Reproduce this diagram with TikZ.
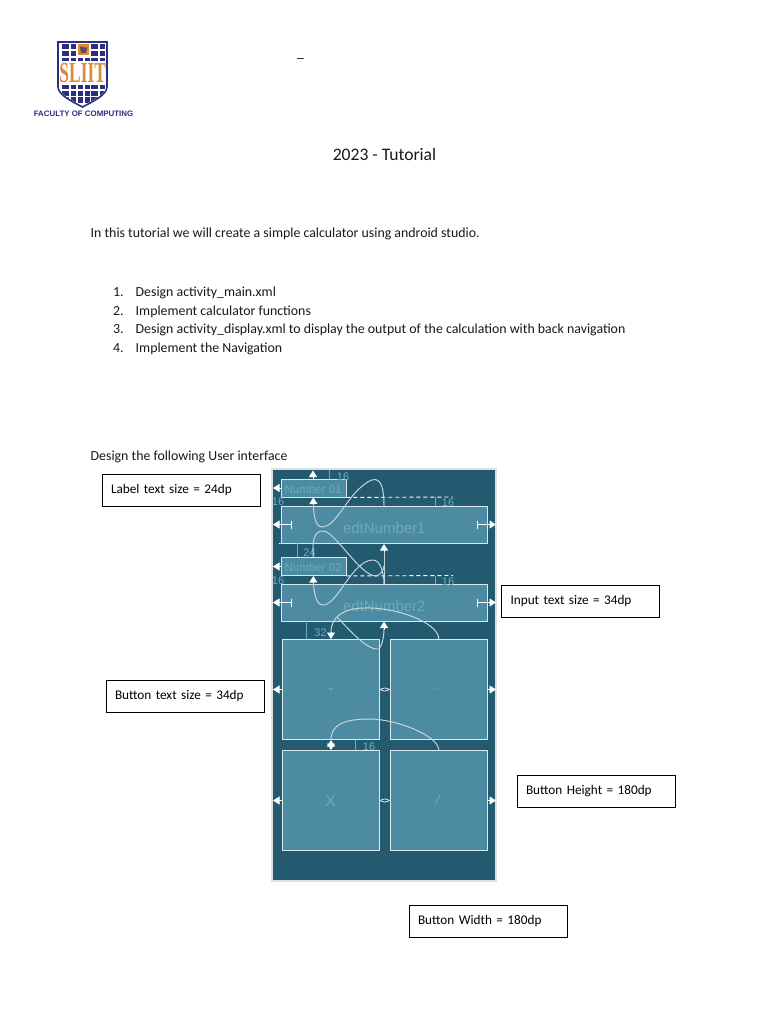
\documentclass[tikz,border=0pt]{standalone}
\usepackage{fontspec}
\setmainfont{Carlito}
\newfontfamily\liber{Liberation Sans}
\newfontfamily\logoserif{Liberation Serif}
\usetikzlibrary{arrows.meta,calc}
\definecolor{panel}{HTML}{245A70}
\definecolor{boxfill}{HTML}{4D8BA3}
\definecolor{boxline}{HTML}{D8EAF0}
\definecolor{dimtxt}{HTML}{68AFC6}
\definecolor{innertxt}{HTML}{6CA9BF}
\definecolor{navy}{HTML}{2B2F7E}
\definecolor{orangeL}{HTML}{DE8A35}
\tikzset{
 x=1pt,y=-1pt,
 body/.style={font=\fontsize{13.85}{15}\selectfont,anchor=base west,inner sep=0pt,text=black!90},
 callout/.style={draw=black,line width=.7pt,fill=white,minimum width=158pt,minimum height=32pt,inner sep=0pt,font=\fontsize{13.25}{15}\selectfont,text width=140pt,align=left},
 uibox/.style={draw=boxline,line width=.9pt,fill=boxfill,inner sep=0pt,text=innertxt,font=\liber},
 dimlab/.style={text=dimtxt,font=\liber\fontsize{11}{11}\selectfont,inner sep=0pt},
 dimline/.style={draw=dimtxt,line width=.7pt},
 link/.style={draw=boxline!80!gray,line width=1pt},
 tip/.style={-{Triangle[width=8pt,length=6.5pt,fill=white]},draw=white,line width=.9pt},
 bar/.style={draw=white,line width=.9pt},
}
\begin{document}
\begin{tikzpicture}
\useasboundingbox (0,0) rectangle (768,1024);
\fill[white] (0,0) rectangle (768,1024);

% logo
\begin{scope}
\path[fill=white,draw=navy,line width=1.6pt] (58,42) -- (107,42) -- (107,87) .. controls (107,95) and (92,102) .. (82.5,107) .. controls (73,102) and (58,95) .. (58,87) -- cycle;
\begin{scope}
\clip (59,43) -- (106,43) -- (106,87) .. controls (106,94) and (92,101) .. (82.5,105.5) .. controls (73,101) and (59,94) .. (59,87) -- cycle;
\foreach \xa/\xb in {61.5/68.5,70.5/76,91/98,99.5/105}{
 \foreach \ya/\yb in {44.5/49.5,51.5/56,58/61.5}{\fill[navy] (\xa,\ya) rectangle (\xb,\yb);}
}
\foreach \xa/\xb in {61.5/68.5,70.5/76,77.5/83,84.5/90,91/98,99.5/105}{
 \fill[navy] (\xa,58) rectangle (\xb,61.5);
 \foreach \ya/\yb in {85/89.5,91.5/96,97.5/103}{\fill[navy] (\xa,\ya) rectangle (\xb,\yb);}
}
\end{scope}
\fill[orangeL] (78,44.5) rectangle (89,55.5);
\fill[navy!70!orangeL] (80,47) .. controls (82,45.5) and (85,49) .. (87,47) -- (86,53) -- (81,53) -- cycle;
\node[inner sep=0pt,text=orangeL,xscale=.6,font=\logoserif\bfseries\fontsize{29}{29}\selectfont] (slit) at (82.7,73) {SLIIT};
\node[inner sep=0pt,text=navy,font=\liber\bfseries\fontsize{7.9}{8}\selectfont] (fac) at (83.5,114) {FACULTY OF COMPUTING};
\end{scope}

% texts
\node[inner sep=0pt,font=\fontsize{13.85}{15}\selectfont] (dash) at (300.5,58) {\_};
\node[inner sep=0pt,font=\fontsize{17.6}{20}\selectfont,text=black!90] (title) at (384.5,154.5) {2023 - Tutorial};
\node[body] (intro) at (90.5,237) {In this tutorial we will create a simple calculator using android studio.};
\node[body] (n1) at (113,296) {1.};\node[body] (t1) at (135.5,296) {Design activity\_main.xml};
\node[body] (n2) at (113,315) {2.};\node[body] (t2) at (135.5,315) {Implement calculator functions};
\node[body] (n3) at (113,333.5) {3.};\node[body] (t3) at (135.5,333.5) {Design activity\_display.xml to display the output of the calculation with back navigation};
\node[body] (n4) at (113,352) {4.};\node[body] (t4) at (135.5,352) {Implement the Navigation};
\node[body] (design) at (90.5,460) {Design the following User interface};

% panel
\node[draw=black!12,line width=2pt,fill=panel,minimum width=224pt,minimum height=412pt,inner sep=0pt] (panel) at (384,675) {};

% ui boxes
\node[uibox,minimum width=65pt,minimum height=18pt,font=\liber\fontsize{11.5}{12}\selectfont] (lab1) at (313.5,488) {\raisebox{-5pt}[4pt][4pt]{\hspace*{-1pt}Number 01}};
\node[uibox,minimum width=206.5pt,minimum height=37pt,font=\liber\fontsize{15}{16}\selectfont] (ed1) at (384.3,524.5) {\raisebox{-9pt}[5pt][5pt]{edtNumber1}};
\node[uibox,minimum width=65pt,minimum height=18pt,font=\liber\fontsize{11.5}{12}\selectfont] (lab2) at (313.5,566.5) {\raisebox{-5pt}[4pt][4pt]{\hspace*{-1pt}Number 02}};
\node[uibox,minimum width=206.5pt,minimum height=37pt,font=\liber\fontsize{15}{16}\selectfont] (ed2) at (384.3,602.5) {\raisebox{-9pt}[5pt][5pt]{edtNumber2}};
\node[uibox,minimum width=97.5pt,minimum height=100.5pt,font=\liber\fontsize{10}{11}\selectfont] (plus) at (330.8,689.5) {+};
\node[uibox,minimum width=97.5pt,minimum height=100.5pt,font=\liber\fontsize{10}{11}\selectfont] (minus) at (438.8,689.5) {\raisebox{-1pt}{\hspace*{-3pt}-}};
\node[uibox,minimum width=97.5pt,minimum height=100.5pt,font=\liber\fontsize{16}{17}\selectfont] (times) at (330.8,800.5) {X};
\node[uibox,minimum width=97.5pt,minimum height=100.5pt,font=\liber\itshape\fontsize{14}{15}\selectfont] (div) at (438.8,800.5) {\hspace*{-3pt}/};

% dimension lines
\coordinate (dA) at (329.5,470);
\draw[dimline] (dA) -- (lab1.north -| dA);
\coordinate (dB) at (435,497);
\draw[dimline] (dB) -- (ed1.north -| dB);
\coordinate (dC) at (297.5,543);
\draw[dimline] (dC) -- (lab2.north -| dC);
\coordinate (dD) at (435,575.5);
\draw[dimline] (dD) -- (ed2.north -| dD);
\coordinate (dE) at (306.5,621);
\draw[dimline] (dE) -- (plus.north -| dE);
\coordinate (dF) at (355.5,740);
\draw[dimline] (dF) -- (times.north -| dF);
\node[dimlab] (l16a) at (343,477) {16};
\node[dimlab] (l16b) at (278,502) {16};
\node[dimlab] (l16c) at (448,503) {16};
\node[dimlab] (l24) at (309.5,553) {24};
\node[dimlab] (l16d) at (278,580.5) {16};
\node[dimlab] (l16e) at (448,582) {16};
\node[dimlab] (l32) at (320.5,633) {32};
\node[dimlab] (l16f) at (369,747) {16};

% dashed baselines
\coordinate (eA) at (453,497);
\coordinate (eB) at (453,575.5);
\coordinate (eC) at (279,543.5);
\draw[white,line width=.9pt,dash pattern=on 4pt off 3pt] (lab1.south east) -- (eA);
\draw[white,line width=.9pt,dash pattern=on 4pt off 3pt] (lab2.south east) -- (eB);
\draw[white,line width=.9pt] (eC) -- (ed1.south west);

% side constraints
\foreach \n/\y in {lab1/488,lab2/566.5}{
 \coordinate (\n L) at (273,\y);
 \draw[tip] (\n.west) -- (\n L);
}
\foreach \n/\y in {ed1/524.5,ed2/602.5}{
 \coordinate (\n Lb) at (291.5,\y);
 \coordinate (\n Rb) at (477.5,\y);
 \coordinate (\n Lt) at (273,\y);
 \coordinate (\n Rt) at (496,\y);
 \draw[tip] (\n Lb) -- (\n Lt);
 \draw[tip] (\n Rb) -- (\n Rt);
 \draw[bar] ($(\n Lb)+(0,-4)$) -- ($(\n Lb)+(0,4)$);
 \draw[bar] ($(\n Rb)+(0,-4)$) -- ($(\n Rb)+(0,4)$);
}
\foreach \a/\b/\y in {plus/minus/689.5,times/div/800.5}{
 \coordinate (\a Lt) at (273,\y);
 \coordinate (\b Rt) at (496,\y);
 \draw[tip] (\a.west) -- (\a Lt);
 \draw[tip] (\b.east) -- (\b Rt);
 \draw[white,line width=.7pt] (\a.east) .. controls ($(\a.east)+(5,-2.5)$) and ($(\b.west)+(-4,-1.5)$) .. (\b.west);
 \draw[white,line width=.7pt] (\a.east) .. controls ($(\a.east)+(5,2.5)$) and ($(\b.west)+(-4,1.5)$) .. (\b.west);
}

% top arrows
\coordinate (topA) at (313,470.5);
\draw[tip] (lab1.north -| topA) -- (topA);

% curves
\coordinate (aT) at (313.3,497.5);
\coordinate (a1) at (384,506);
\draw[link] (ed1.north -| a1) .. controls (384,470) and (371,478) .. (360,488) .. controls (345,501) and (335,527) .. (322,527) .. controls (315,527) and (313.5,514) .. (313.5,503);
\draw[tip] (313.4,504) -- (aT);
\coordinate (bS) at (313.3,558);
\draw[link] (lab2.north -| bS) .. controls (312,541) and (314,531) .. (323,531) .. controls (335,531) and (360,576) .. (376,576);
\draw[link] (376,576) .. controls (380,575.5) and (384,570) .. (384,566);
\coordinate (cT) at (313.3,576);
\draw[link] (313.4,582) .. controls (314,593) and (316,605) .. (323,605) .. controls (338,605) and (352,560) .. (373,560) .. controls (380,560) and (384,572) .. (384,584);
\draw[tip] (313.4,583) -- (cT);
\coordinate (uT1) at (384,544);
\draw[link] (384,584) -- (384,551);
\draw[tip] (384,552) -- (uT1);
\coordinate (uT2) at (384,621.5);
\draw[link] (384,630) -- (384,628);
\draw[tip] (384,629) -- (uT2);
\draw[link] (384,629) .. controls (384,636) and (382,648) .. (378,649);
\draw[link] (minus.north) .. controls (438,622) and (395,607) .. (365,608) .. controls (345,608) and (331,616) .. (331,632);
\coordinate (cD) at (331,639);
\draw[tip] (331,632) -- (cD);
\draw[link] (377,649) .. controls (365,649) and (345,625) .. (337,617);
% bottom link
\draw[link] (div.north) .. controls (438,735) and (395,719) .. (370,719) .. controls (345,719) and (331,724) .. (331,740);
\coordinate (cE) at (331,750);
\coordinate (cF) at (331,740);
\draw[tip] ($(cE)!.5!(cF)+(0,-.5)$) -- (cF);
\draw[tip] ($(cE)!.5!(cF)+(0,.5)$) -- (cE);

% callouts
\node[callout] (c1) at (181,490) {\raisebox{2pt}{Label text size = 24dp}};
\node[callout] (c2) at (580.5,601) {\raisebox{3pt}{Input text size = 34dp}};
\node[callout] (c3) at (185,696) {\raisebox{2pt}{Button text size = 34dp}};
\node[callout] (c4) at (596,791.5) {\raisebox{3pt}{Button Height = 180dp}};
\node[callout] (c5) at (488,921) {\raisebox{3pt}{Button Width = 180dp}};
\end{tikzpicture}
\end{document}
